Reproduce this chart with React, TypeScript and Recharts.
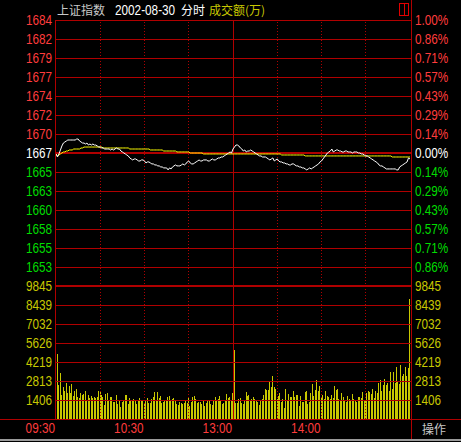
import { ComposedChart, Bar, Line, XAxis, YAxis, ReferenceLine } from "recharts";

// previous close of the index
const prevClose = 1667.8;

const priceLabels = ["1684", "1682", "1679", "1677", "1674", "1672", "1670", "1667", "1665", "1663", "1660", "1658", "1655", "1653"];
const pctLabels = ["1.00%", "0.86%", "0.71%", "0.57%", "0.43%", "0.29%", "0.14%", "0.00%", "0.14%", "0.29%", "0.43%", "0.57%", "0.71%", "0.86%"];
const volLabels = ["9845", "8439", "7032", "5626", "4219", "2813", "1406"];
const volTop = 9845;
const timeTicks = [0, 60, 120, 180];
const timeLabels = ["09:30", "10:30", "13:00", "14:00"];
const halfHours = [30, 60, 90, 150, 180, 210];

// one value per minute, 09:30 .. 15:00
const prices = [
  1667.68, 1667.30, 1667.68, 1668.18, 1668.68, 1669.05, 1669.18, 1669.30, 1669.43, 1669.43,
  1669.43, 1669.43, 1669.43, 1669.43, 1669.55, 1669.55, 1669.30, 1669.18, 1669.05, 1669.05,
  1668.93, 1669.05, 1668.80, 1668.93, 1668.80, 1668.93, 1668.80, 1668.80, 1668.68, 1668.55,
  1668.55, 1668.43, 1668.43, 1668.30, 1668.30, 1668.30, 1668.30, 1668.18, 1668.30, 1668.18,
  1668.30, 1668.43, 1668.30, 1668.30, 1668.05, 1667.93, 1667.80, 1667.68, 1667.55, 1667.43,
  1667.18, 1667.05, 1666.93, 1667.05, 1667.05, 1666.93, 1666.80, 1666.80, 1666.93, 1666.93,
  1666.80, 1666.55, 1666.68, 1666.68, 1666.55, 1666.43, 1666.43, 1666.30, 1666.30, 1666.18,
  1666.18, 1666.05, 1666.05, 1665.93, 1665.93, 1665.93, 1665.68, 1665.93, 1665.80, 1666.05,
  1666.18, 1666.30, 1666.18, 1666.18, 1666.18, 1666.30, 1666.43, 1666.30, 1666.43, 1666.68,
  1666.80, 1666.55, 1666.43, 1666.43, 1666.55, 1666.68, 1666.80, 1666.93, 1666.80, 1666.80,
  1666.93, 1666.93, 1666.93, 1666.80, 1666.80, 1666.93, 1667.05, 1666.93, 1666.93, 1667.05,
  1667.18, 1667.18, 1667.30, 1667.30, 1667.43, 1667.55, 1667.68, 1667.80, 1667.93, 1667.80,
  1668.30, 1668.55, 1668.80, 1668.80, 1668.68, 1668.43, 1668.30, 1668.05, 1668.18, 1667.93,
  1668.05, 1668.05, 1668.18, 1668.05, 1667.93, 1667.80, 1667.68, 1667.55, 1667.43, 1667.43,
  1667.30, 1667.30, 1667.30, 1667.18, 1667.05, 1666.93, 1667.05, 1667.18, 1666.80, 1666.93,
  1667.05, 1666.80, 1666.68, 1666.68, 1666.55, 1666.55, 1666.43, 1666.43, 1666.30, 1666.30,
  1666.43, 1666.43, 1666.30, 1666.18, 1666.18, 1666.05, 1666.05, 1665.93, 1665.93, 1665.80,
  1665.68, 1665.80, 1665.93, 1665.80, 1665.93, 1666.05, 1666.18, 1666.30, 1666.43, 1666.68,
  1666.80, 1667.05, 1667.30, 1667.55, 1667.80, 1667.93, 1668.05, 1668.30, 1667.93, 1668.05,
  1668.18, 1668.18, 1668.05, 1668.05, 1667.93, 1667.93, 1668.05, 1668.05, 1667.93, 1667.93,
  1667.93, 1667.80, 1667.93, 1667.93, 1667.93, 1667.80, 1667.80, 1667.68, 1667.68, 1667.55,
  1667.43, 1667.43, 1667.30, 1667.18, 1667.05, 1666.93, 1666.80, 1666.68, 1666.55, 1666.30,
  1666.18, 1666.18, 1666.05, 1665.93, 1665.80, 1665.80, 1665.80, 1665.80, 1665.80, 1665.80,
  1665.80, 1665.68, 1665.68, 1666.05, 1666.18, 1666.30, 1666.43, 1666.55, 1666.68, 1667.18,
  1667.05,
];

const avgPrices = [
  1667.68, 1667.43, 1667.55, 1667.68, 1667.80, 1667.93, 1667.93, 1668.05, 1668.05, 1668.18,
  1668.18, 1668.18, 1668.30, 1668.30, 1668.30, 1668.30, 1668.30, 1668.43, 1668.43, 1668.55,
  1668.55, 1668.55, 1668.55, 1668.55, 1668.55, 1668.55, 1668.55, 1668.55, 1668.55, 1668.55,
  1668.55, 1668.55, 1668.43, 1668.43, 1668.43, 1668.43, 1668.43, 1668.43, 1668.43, 1668.43,
  1668.43, 1668.43, 1668.43, 1668.43, 1668.43, 1668.43, 1668.43, 1668.43, 1668.43, 1668.43,
  1668.30, 1668.30, 1668.30, 1668.30, 1668.30, 1668.30, 1668.30, 1668.30, 1668.30, 1668.30,
  1668.30, 1668.30, 1668.30, 1668.30, 1668.18, 1668.18, 1668.18, 1668.18, 1668.18, 1668.18,
  1668.18, 1668.18, 1668.18, 1668.05, 1668.05, 1668.05, 1668.05, 1668.05, 1668.05, 1668.05,
  1668.05, 1668.05, 1667.93, 1667.93, 1667.93, 1667.93, 1667.93, 1667.93, 1667.93, 1667.93,
  1667.93, 1667.80, 1667.80, 1667.80, 1667.80, 1667.80, 1667.80, 1667.80, 1667.80, 1667.80,
  1667.68, 1667.68, 1667.68, 1667.68, 1667.68, 1667.68, 1667.68, 1667.68, 1667.68, 1667.68,
  1667.68, 1667.68, 1667.68, 1667.68, 1667.68, 1667.68, 1667.68, 1667.68, 1667.68, 1667.68,
  1667.68, 1667.68, 1667.68, 1667.68, 1667.68, 1667.68, 1667.68, 1667.68, 1667.68, 1667.68,
  1667.68, 1667.68, 1667.68, 1667.68, 1667.68, 1667.68, 1667.68, 1667.68, 1667.68, 1667.68,
  1667.68, 1667.68, 1667.68, 1667.68, 1667.68, 1667.68, 1667.68, 1667.68, 1667.68, 1667.68,
  1667.68, 1667.68, 1667.68, 1667.55, 1667.55, 1667.55, 1667.55, 1667.55, 1667.55, 1667.55,
  1667.55, 1667.55, 1667.55, 1667.55, 1667.55, 1667.55, 1667.55, 1667.55, 1667.55, 1667.43,
  1667.43, 1667.43, 1667.43, 1667.43, 1667.43, 1667.43, 1667.43, 1667.43, 1667.43, 1667.43,
  1667.43, 1667.43, 1667.43, 1667.43, 1667.43, 1667.43, 1667.43, 1667.43, 1667.43, 1667.43,
  1667.43, 1667.43, 1667.43, 1667.43, 1667.43, 1667.43, 1667.43, 1667.43, 1667.43, 1667.43,
  1667.43, 1667.43, 1667.43, 1667.43, 1667.43, 1667.43, 1667.43, 1667.43, 1667.43, 1667.43,
  1667.43, 1667.43, 1667.43, 1667.43, 1667.43, 1667.43, 1667.43, 1667.43, 1667.43, 1667.43,
  1667.43, 1667.43, 1667.43, 1667.43, 1667.43, 1667.43, 1667.43, 1667.43, 1667.30, 1667.30,
  1667.30, 1667.30, 1667.30, 1667.30, 1667.30, 1667.30, 1667.30, 1667.30, 1667.30, 1667.30,
  1667.30,
];

const volumes = [
  8966, 4817, 2519, 3409, 1778, 2371, 2075, 2668, 1927, 2445, 1927, 2594, 1704, 2075, 2223,
  1630, 1556, 1927, 1778, 1853, 2075, 1408, 1778, 1556, 1704, 1556, 1630, 1556, 1630, 2075,
  2075, 1778, 1630, 1037, 1853, 1927, 1334, 1630, 1630, 1260, 1260, 1778, 1111, 1408, 889,
  1260, 1334, 1778, 1778, 1111, 1556, 1408, 1408, 1482, 1408, 1111, 1408, 1556, 1408, 1408,
  1111, 1408, 1556, 1186, 1186, 1482, 1630, 2001, 1334, 2001, 1556, 1704, 1186, 1260, 1408,
  1408, 1630, 1704, 1334, 1482, 1556, 1408, 1111, 1037, 1260, 1186, 1111, 1186, 1408, 1186,
  1630, 963, 1260, 1630, 1704, 1482, 1186, 1260, 1260, 1111, 1408, 963, 1186, 1408, 1408,
  1111, 1037, 1408, 1630, 1408, 1482, 1704, 1408, 1111, 1186, 1408, 1853, 1556, 1630, 1408,
  1927, 5113, 1186, 1186, 1482, 1556, 1186, 1111, 1334, 2001, 1704, 1778, 1334, 1482, 1630,
  1482, 1408, 1260, 1037, 1408, 1482, 1778, 2223, 2149, 2149, 2816, 2371, 3187, 2371, 2223,
  1482, 1704, 1927, 1260, 1482, 815, 2223, 1408, 1853, 1630, 1630, 2075, 1630, 1778, 1778,
  963, 1704, 1260, 1260, 2001, 2075, 1111, 1260, 1927, 2594, 1704, 2149, 2890, 2075, 2445,
  1630, 1778, 1482, 2075, 1704, 1630, 1482, 1778, 1556, 2445, 2149, 2223, 1482, 1408, 1927,
  1630, 1408, 1260, 1704, 1482, 1334, 1853, 1482, 1408, 1260, 1630, 1630, 1556, 2001, 1408,
  1408, 1927, 2075, 2001, 1853, 2223, 1556, 2075, 1927, 2668, 2890, 2075, 2519, 2964, 2519,
  2668, 2075, 3483, 2223, 3483, 2668, 3853, 2742, 2594, 4001, 3187, 3335, 3853, 3187, 3779,
  8892,
];

const data = prices.map((p, i) => ({ m: i, price: p, avg: avgPrices[i], vol: volumes[i] }));

const GRID = "#b00000";
const RED_TXT = "#ff3c3c";
const GREEN_TXT = "#00dc00";
const YELLOW_TXT = "#c8c800";
const FONT = "'Liberation Sans', Arial, sans-serif";
const CJK = "'Noto Sans CJK SC', sans-serif";
// the terminal font is tall and narrow: squeeze a regular sans sideways
const SQUEEZE = 0.84;

const priceTicks = priceLabels.map((_, i) => prevClose * (1 + (7 - i) / 700));
const pctTicks = pctLabels.map((_, i) => (7 - i) / 7);
const volTicks = volLabels.map((_, i) => (volTop * (7 - i)) / 7);

const sideColor = (k: number) => (k > 0 ? RED_TXT : k < 0 ? GREEN_TXT : "#ffffff");

const NarrowText = ({ x, y, anchor, fill, children, dy = "0.36em" }: any) => (
  <text
    transform={`translate(${x},${y}) scale(${SQUEEZE},1)`}
    dy={dy}
    textAnchor={anchor}
    fill={fill}
    fontSize={14}
    fontFamily={FONT}
  >
    {children}
  </text>
);

const PriceTick = ({ x, y, payload }: any) => {
  const k = Math.round((payload.value / prevClose - 1) * 700);
  return (
    <NarrowText x={x} y={y} anchor="end" fill={sideColor(k)}>
      {priceLabels[7 - k]}
    </NarrowText>
  );
};

const PctTick = ({ x, y, payload }: any) => {
  const k = Math.round(payload.value * 7);
  return (
    <NarrowText x={x} y={y} anchor="start" fill={sideColor(k)}>
      {pctLabels[7 - k]}
    </NarrowText>
  );
};

const TimeTick = ({ x, y, payload }: any) => (
  <NarrowText x={x - 1} y={y + 14} anchor="end" fill={RED_TXT} dy="0">
    {timeLabels[timeTicks.indexOf(payload.value)]}
  </NarrowText>
);

const VolLabel = ({ viewBox, text }: any) => {
  const { x, y, width } = viewBox;
  return (
    <g>
      <NarrowText x={x - 3} y={y} anchor="end" fill={YELLOW_TXT}>{text}</NarrowText>
      <NarrowText x={x + width + 4} y={y} anchor="start" fill={YELLOW_TXT}>{text}</NarrowText>
    </g>
  );
};

const VolBar = (props: any) => (
  <rect x={props.x} y={props.y} width={props.width} height={props.height} fill="#c8c800" shapeRendering="crispEdges" />
);

const narrowSpan = {
  position: "absolute" as const,
  fontSize: 14,
  lineHeight: "14px",
  fontFamily: FONT,
  transform: `scaleX(${SQUEEZE})`,
  transformOrigin: "0 0",
  whiteSpace: "nowrap" as const,
};

export default function App() {
  return (
    <div style={{ position: "fixed", left: 0, top: 0, width: 461, height: 442, background: "#000", overflow: "hidden" }}>
      <ComposedChart width={461} height={442} data={data} margin={{ top: 20, right: 0, bottom: 0, left: 0 }}>
        <XAxis
          dataKey="m"
          type="number"
          domain={[0, 240]}
          ticks={timeTicks}
          interval={0}
          padding={{ left: 1, right: 1 }}
          axisLine={false}
          tickLine={false}
          tickSize={0}
          tickMargin={0}
          height={23}
          tick={<TimeTick />}
        />
        <YAxis
          yAxisId="price"
          type="number"
          orientation="left"
          width={55}
          domain={[prevClose * 0.98, prevClose * 1.01]}
          ticks={priceTicks}
          interval={0}
          allowDataOverflow
          axisLine={{ stroke: GRID, shapeRendering: "crispEdges" }}
          tickLine={false}
          tickSize={0}
          tickMargin={3}
          tick={<PriceTick />}
        />
        <YAxis
          yAxisId="pct"
          type="number"
          orientation="right"
          width={50}
          domain={[-2, 1]}
          ticks={pctTicks}
          interval={0}
          allowDataOverflow
          axisLine={false}
          tickLine={false}
          tickSize={0}
          tickMargin={4}
          tick={<PctTick />}
        />
        <YAxis yAxisId="vol" hide type="number" domain={[0, volTop * 3]} allowDataOverflow />

        {priceTicks.map((v, i) => (
          <ReferenceLine
            key={"p" + i}
            yAxisId="price"
            y={v}
            stroke={GRID}
            strokeWidth={i === 7 ? 2 : 1}
            shapeRendering="crispEdges"
          />
        ))}
        {volTicks.map((v, i) => (
          <ReferenceLine
            key={"v" + i}
            yAxisId="vol"
            y={v}
            stroke={GRID}
            strokeWidth={i === 0 ? 2 : 1}
            shapeRendering="crispEdges"
            label={<VolLabel text={volLabels[i]} />}
          />
        ))}
        {halfHours.map((m) => (
          <ReferenceLine key={"h" + m} yAxisId="price" x={m} stroke={GRID} strokeDasharray="1 2" shapeRendering="crispEdges" />
        ))}
        <ReferenceLine yAxisId="price" x={120} stroke={GRID} shapeRendering="crispEdges" />

        <Bar yAxisId="vol" dataKey="vol" barSize={1} shape={<VolBar />} isAnimationActive={false} />
        <Line yAxisId="price" dataKey="avg" stroke="#ffff00" strokeWidth={1} dot={false} isAnimationActive={false} />
        <Line yAxisId="price" dataKey="price" stroke="#ffffff" strokeWidth={1} dot={false} isAnimationActive={false} />
      </ComposedChart>

      <div style={{ position: "absolute", left: 411, top: 0, width: 1, height: 440, background: GRID }} />
      <div style={{ position: "absolute", left: 0, top: 419, width: 461, height: 1, background: GRID }} />
      <div style={{ position: "absolute", left: 0, top: 439, width: 461, height: 2, background: "#9a9a9a" }} />

      <span style={{ position: "absolute", left: 57, top: 4, fontSize: 12, lineHeight: "12px", fontFamily: CJK, color: "#c8c8c8" }}>上证指数</span>
      <span style={{ ...narrowSpan, left: 115, top: 3, color: "#ffffff" }}>2002-08-30</span>
      <span style={{ position: "absolute", left: 181, top: 4, fontSize: 12, lineHeight: "12px", fontFamily: CJK, color: "#ffffff" }}>分时</span>
      <span style={{ position: "absolute", left: 209, top: 4, fontSize: 12, lineHeight: "12px", fontFamily: CJK, color: YELLOW_TXT }}>成交额(万)</span>
      <div style={{ position: "absolute", left: 399, top: 3, width: 8, height: 11, border: "1px solid #e00000" }}>
        <div style={{ position: "absolute", left: 4, top: 0, width: 1, height: 11, background: "#e00000" }} />
      </div>
      <span style={{ position: "absolute", left: 422, top: 423, fontSize: 12, lineHeight: "12px", fontFamily: CJK, color: "#c8c8c8" }}>操作</span>
    </div>
  );
}
